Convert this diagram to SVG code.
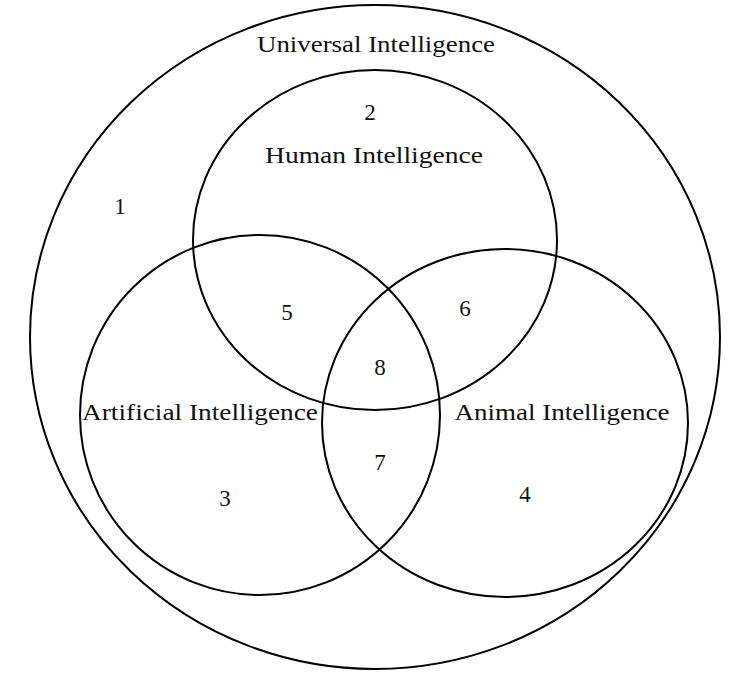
<svg xmlns="http://www.w3.org/2000/svg" width="748" height="680" viewBox="0 0 748 680">
<style>
.c{fill:none;stroke:#000;stroke-width:2}
text{font-family:"Liberation Serif",serif;font-size:23px;fill:#111;text-anchor:middle}
</style>
<rect width="748" height="680" fill="#fff"/>
<g id="universal"><ellipse class="c" cx="375" cy="337" rx="345" ry="332" stroke-width="3"/><text x="376" y="52" textLength="238" lengthAdjust="spacingAndGlyphs">Universal Intelligence</text><text x="120" y="214">1</text></g>
<g id="human"><ellipse class="c" cx="375" cy="240" rx="182" ry="170"/><text x="370" y="120">2</text><text x="374" y="163" textLength="218" lengthAdjust="spacingAndGlyphs">Human Intelligence</text></g>
<g id="artificial"><ellipse class="c" cx="260" cy="415" rx="180" ry="180"/><text x="200" y="420" textLength="236" lengthAdjust="spacingAndGlyphs">Artificial Intelligence</text><text x="225" y="506">3</text></g>
<g id="animal"><ellipse class="c" cx="505" cy="423" rx="183" ry="174"/><text x="562" y="420" textLength="215" lengthAdjust="spacingAndGlyphs">Animal Intelligence</text><text x="525" y="502">4</text></g>
<g id="regions"><text x="287" y="320">5</text><text x="465" y="316">6</text><text x="380" y="375">8</text><text x="380" y="470">7</text></g>
<g id="connectors"/>
</svg>
